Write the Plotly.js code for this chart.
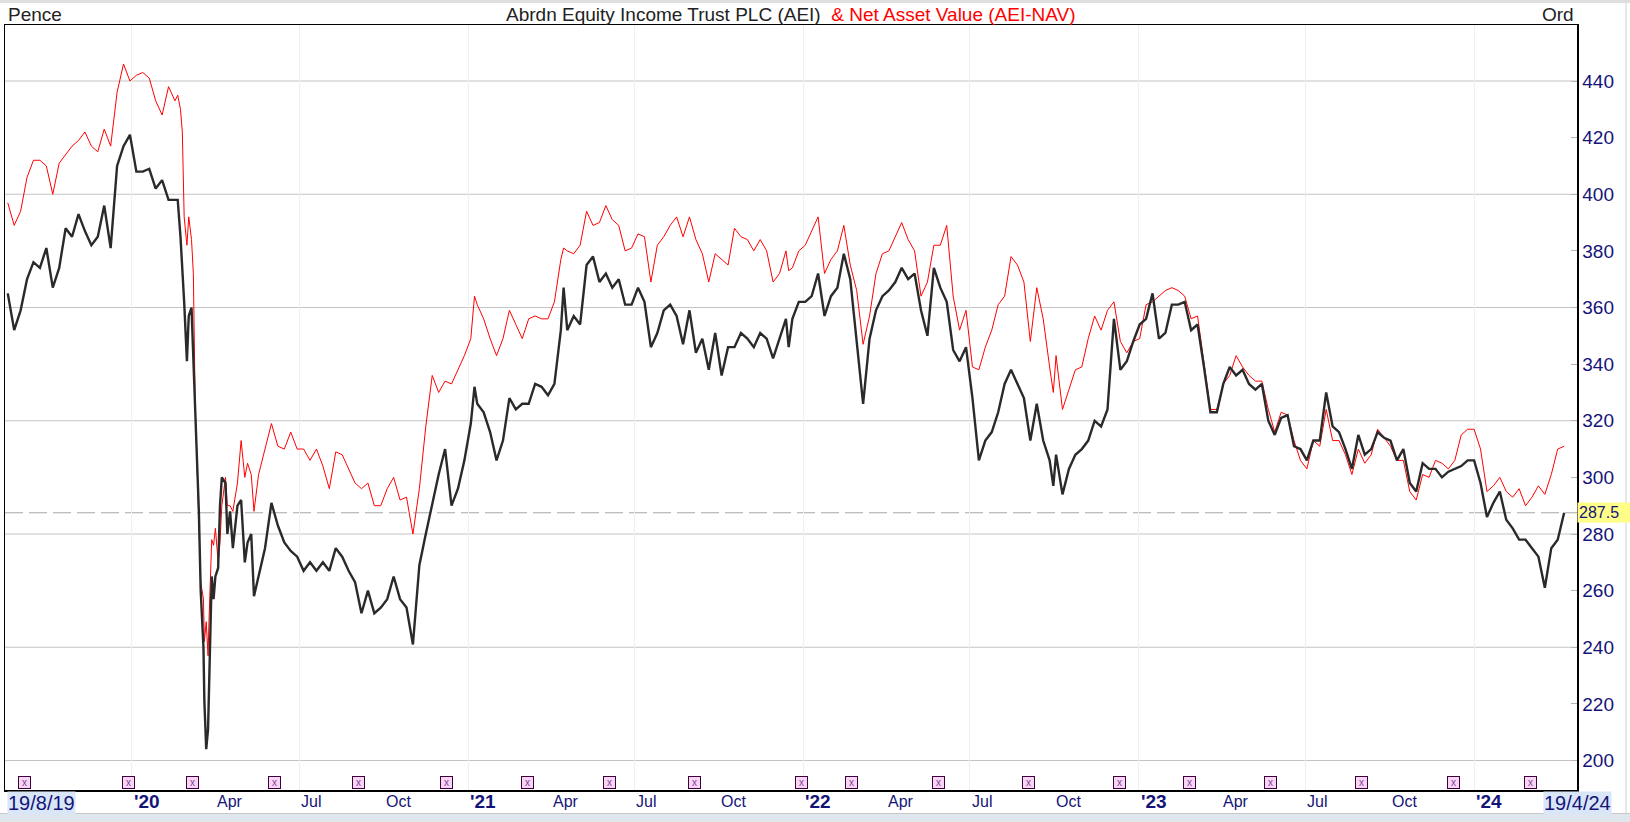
<!DOCTYPE html>
<html><head><meta charset="utf-8">
<script src="https://cdn.plot.ly/plotly-3.0.1.min.js"></script>
<style>html,body{margin:0;padding:0;background:#fff;overflow:hidden}#chart{width:1630px;height:822px}</style>
</head><body><div id="chart"></div>
<script>
// ---------------- DATA ----------------
const dates = [
"2019-08-19","2019-08-26","2019-09-02","2019-09-09","2019-09-16","2019-09-23","2019-09-30","2019-10-07","2019-10-14","2019-10-21",
"2019-10-28","2019-11-04","2019-11-11","2019-11-18","2019-11-25","2019-12-02","2019-12-09","2019-12-16","2019-12-23","2019-12-30",
"2020-01-06","2020-01-13","2020-01-20","2020-01-27","2020-02-03","2020-02-10",
"2020-02-17","2020-02-20","2020-02-23","2020-02-25","2020-02-27","2020-03-01","2020-03-03","2020-03-06","2020-03-08","2020-03-10",
"2020-03-12","2020-03-14","2020-03-16","2020-03-19","2020-03-20","2020-03-22","2020-03-24","2020-03-25","2020-03-27","2020-03-28",
"2020-03-30","2020-04-01","2020-04-04","2020-04-06","2020-04-08","2020-04-12","2020-04-14","2020-04-17","2020-04-20","2020-04-25",
"2020-04-29","2020-05-03","2020-05-06","2020-05-10","2020-05-13",
"2020-05-18","2020-05-25","2020-06-01","2020-06-08","2020-06-15","2020-06-22","2020-06-29","2020-07-06","2020-07-13","2020-07-20",
"2020-07-27","2020-08-03","2020-08-10","2020-08-17","2020-08-24","2020-08-31","2020-09-07","2020-09-14","2020-09-21","2020-09-28",
"2020-10-05","2020-10-12","2020-10-19","2020-10-26","2020-11-02","2020-11-09","2020-11-16","2020-11-23","2020-11-30","2020-12-07",
"2020-12-14","2020-12-21","2020-12-28","2021-01-04","2021-01-08","2021-01-11","2021-01-18","2021-01-25","2021-02-01","2021-02-08","2021-02-15",
"2021-02-22","2021-03-01","2021-03-08","2021-03-15","2021-03-22","2021-03-29","2021-04-05","2021-04-12","2021-04-15","2021-04-19","2021-04-26",
"2021-05-03","2021-05-10","2021-05-17","2021-05-24","2021-05-31","2021-06-07","2021-06-14","2021-06-21","2021-06-28","2021-07-05",
"2021-07-12","2021-07-19","2021-07-26","2021-08-02","2021-08-09","2021-08-16","2021-08-23","2021-08-30","2021-09-06","2021-09-13",
"2021-09-20","2021-09-27","2021-10-04","2021-10-11","2021-10-18","2021-10-25","2021-11-01","2021-11-08","2021-11-15","2021-11-22",
"2021-11-29","2021-12-06","2021-12-13","2021-12-16","2021-12-20","2021-12-27","2022-01-03","2022-01-10","2022-01-17","2022-01-24","2022-01-31",
"2022-02-07","2022-02-14","2022-02-21","2022-02-28","2022-03-07","2022-03-14","2022-03-21","2022-03-28","2022-04-04","2022-04-11",
"2022-04-18","2022-04-25","2022-05-02","2022-05-09","2022-05-16","2022-05-23","2022-05-30","2022-06-06","2022-06-13","2022-06-20",
"2022-06-27","2022-07-04","2022-07-11","2022-07-18","2022-07-25","2022-08-01","2022-08-08","2022-08-15","2022-08-22","2022-08-29",
"2022-09-05","2022-09-12","2022-09-19","2022-09-26","2022-09-30","2022-10-03","2022-10-10","2022-10-17","2022-10-24","2022-10-31","2022-11-07",
"2022-11-14","2022-11-21","2022-11-28","2022-12-05","2022-12-12","2022-12-19","2022-12-26","2023-01-02","2023-01-09","2023-01-16",
"2023-01-23","2023-01-30","2023-02-06","2023-02-13","2023-02-20","2023-02-27","2023-03-06","2023-03-13","2023-03-20","2023-03-27",
"2023-04-03","2023-04-10","2023-04-17","2023-04-24","2023-05-01","2023-05-08","2023-05-15","2023-05-22","2023-05-29","2023-06-05",
"2023-06-12","2023-06-19","2023-06-26","2023-07-03","2023-07-10","2023-07-17","2023-07-24","2023-07-31","2023-08-07","2023-08-14",
"2023-08-21","2023-08-28","2023-09-04","2023-09-11","2023-09-18","2023-09-25","2023-10-02","2023-10-09","2023-10-16","2023-10-23",
"2023-10-30","2023-11-06","2023-11-13","2023-11-20","2023-11-27","2023-12-04","2023-12-11","2023-12-18","2023-12-25","2024-01-01",
"2024-01-08","2024-01-15","2024-01-22","2024-01-29","2024-02-05","2024-02-12","2024-02-19","2024-02-26","2024-03-04","2024-03-11",
"2024-03-18","2024-03-25","2024-04-01","2024-04-08"
];

const price = [
365,352,359,370,376,374,381,367,374,388,
385,393,387,382,385,396,381,410,417,421,
408,408,409,402,405,398,
398,398,385,375,362,341,357,360,341,323,
306,288,260,240,221,204,211,224,257,265,
257,265,268,290,300,298,280,288,275,290,
292,270,277,280,258,
265,275,291,283,277,274,272,267,270,267,
270,267,275,272,267,263,252,260,252,254,
257,265,257,254,241,269,280,291,301,310,
290,296,306,319,332,326,323,316,306,313,328,
324,326,326,333,332,329,333,352,367,352,357,
354,375,378,369,372,367,370,361,361,367,
362,346,351,359,361,357,347,359,344,349,
338,351,336,346,346,351,349,346,351,349,
342,349,356,346,356,362,362,364,372,357,364,
367,379,370,349,326,349,359,364,366,369,
374,370,372,359,350,374,367,362,345,341,
346,328,306,313,316,323,333,338,333,328,
313,326,313,306,297,308,294,303,308,310,313,
320,318,324,356,338,341,348,354,356,365,
349,351,361,361,362,352,354,339,323,323,
333,339,336,338,333,331,333,320,315,321,
322,311,310,306,313,313,330,318,316,310,
303,315,308,310,316,314,313,306,310,298,
295,305,303,303,300,302,303,304,306,306,
298,286,291,295,285,282,278,278,275,272,
261,275,278,287.5
];

const nav = [
397,389,394,406,412,412,410,400,411,414,
417,419,422,417,415,423,417,436,446,440,
442,443,441,433,428,438,
433,435,430,422,392,382,392,384,372,326,
306,290,263,257,242,249,237,249,265,278,
276,282,270,277,290,300,290,290,288,298,
313,300,305,301,288,
301,310,319,311,310,316,310,310,306,310,
304,296,309,308,303,298,296,298,290,290,
296,300,292,293,280,296,318,336,330,334,
333,338,343,349,364,361,356,349,343,349,359,
354,349,356,357,356,356,362,377,381,380,379,
382,394,389,390,396,391,389,380,381,386,
385,369,382,385,389,392,385,392,384,379,
369,379,377,375,388,385,384,380,384,380,
369,372,380,373,374,380,382,387,392,372,377,
380,389,375,366,347,357,372,379,380,385,
390,384,380,364,369,382,382,389,364,352,
359,339,338,346,352,361,364,378,375,369,
348,367,356,339,330,343,324,331,338,339,349,
357,352,359,362,348,344,348,349,361,362,
364,366,367,366,364,356,357,341,324,324,
333,336,343,339,336,334,334,324,316,323,
322,313,306,303,313,311,324,313,313,308,
301,310,305,308,317,314,311,306,306,295,
292,301,300,306,305,303,306,315,317,317,
310,295,297,300,295,293,296,290,293,297,
294,301,310,311
];

const yTickVals = [200,220,240,260,280,300,320,340,360,380,400,420,440];
const yGridVals = [200,240,280,320,360,400,440];
const xTickDates = ["2020-01-01","2020-04-01","2020-07-01","2020-10-01","2021-01-01","2021-04-01","2021-07-01","2021-10-01",
                    "2022-01-01","2022-04-01","2022-07-01","2022-10-01","2023-01-01","2023-04-01","2023-07-01","2023-10-01","2024-01-01"];
const xTickText  = ["'20","Apr","Jul","Oct","'21","Apr","Jul","Oct","'22","Apr","Jul","Oct","'23","Apr","Jul","Oct","'24"];
const xGridDates = ["2020-01-01","2020-07-01","2021-01-01","2021-07-01","2022-01-01","2022-07-01","2023-01-01","2023-07-01","2024-01-01"];
const divDates = ["2019-09-06","2019-12-28","2020-03-07","2020-06-04","2020-09-04","2020-12-09","2021-03-07","2021-06-04","2021-09-04",
                  "2021-12-30","2022-02-22","2022-05-28","2022-09-03","2022-12-11","2023-02-25","2023-05-24","2023-08-31","2023-12-10","2024-03-02"];
const startLabel = "19/8/19";
const endLabel = "19/4/24";
const lastValue = 287.5;

// ---------------- LAYOUT ----------------
const W = 1630, H = 822, ML = 5, MR = 53, MT = 25, MB = 32;
const PW = W - ML - MR, PH = H - MT - MB;
const pxX = p => (p - ML) / PW;
const pxY = p => (H - MB - p) / PH;
const FONT = "Liberation Sans, Arial, sans-serif";
const NAVY = "#141478";

const traces = [
  {x: dates, y: nav, type: "scatter", mode: "lines", name: "NAV",
   line: {color: "#ff0000", width: 1}, hoverinfo: "skip"},
  {x: dates, y: price, type: "scatter", mode: "lines", name: "AEI",
   line: {color: "#2a2a2a", width: 2.4}, hoverinfo: "skip"}
];

const shapes = [];
yGridVals.forEach(v => shapes.push({type: "line", xref: "paper", yref: "y", x0: 0, x1: 1, y0: v, y1: v,
  line: {color: "#c4c4c4", width: 1}, layer: "below"}));
shapes.push({type: "line", xref: "paper", yref: "y", x0: 0, x1: 1, y0: lastValue, y1: lastValue,
  line: {color: "#a8a8a8", width: 1, dash: "18px,6px"}, layer: "below"});
// window frame decorations
shapes.push({type: "rect", xref: "paper", yref: "paper", x0: pxX(0), x1: pxX(W), y0: pxY(0), y1: pxY(3),
  fillcolor: "#dedede", line: {width: 0}});
shapes.push({type: "rect", xref: "paper", yref: "paper", x0: pxX(0), x1: pxX(W), y0: pxY(814), y1: pxY(822),
  fillcolor: "#dfe6ee", line: {width: 0}});
shapes.push({type: "line", xref: "paper", yref: "paper", x0: pxX(0), x1: pxX(W), y0: pxY(813.5), y1: pxY(813.5),
  line: {color: "#c8c8c8", width: 1}});
shapes.push({type: "line", xref: "paper", yref: "paper", x0: pxX(1626), x1: pxX(1626), y0: pxY(3), y1: pxY(813.5),
  line: {color: "#d0d0d0", width: 1}});

const annotations = [];
annotations.push({xref: "paper", yref: "paper", x: pxX(6), y: pxY(14), xanchor: "left", yanchor: "middle",
  text: "Pence", showarrow: false, font: {family: FONT, size: 19, color: "#222"}});
annotations.push({xref: "paper", yref: "paper", x: 0.5, y: pxY(14), xanchor: "center", yanchor: "middle",
  text: 'Abrdn Equity Income Trust PLC (AEI) &nbsp;<span style="color:#ff0000">&amp; Net Asset Value (AEI-NAV)</span>',
  showarrow: false, font: {family: FONT, size: 19, color: "#222"}});
annotations.push({xref: "paper", yref: "paper", x: pxX(1576), y: pxY(14), xanchor: "right", yanchor: "middle",
  text: "Ord", showarrow: false, font: {family: FONT, size: 19, color: "#222"}});

xTickDates.forEach((d, i) => {
  const isYear = xTickText[i].charAt(0) === "'";
  annotations.push({xref: "x", yref: "paper", x: d, y: pxY(801), xanchor: "left", yanchor: "middle",
    text: isYear ? "<b>" + xTickText[i] + "</b>" : xTickText[i], showarrow: false,
    font: {family: FONT, size: isYear ? 19 : 16, color: NAVY}});
});
annotations.push({xref: "paper", yref: "paper", x: pxX(7), y: pxY(802.5), xanchor: "left", yanchor: "middle",
  text: startLabel, showarrow: false, bgcolor: "#d9e6f7", borderpad: 0,
  font: {family: FONT, size: 20, color: NAVY}});
annotations.push({xref: "paper", yref: "paper", x: 1, y: pxY(802.5), xanchor: "center", yanchor: "middle",
  text: endLabel, showarrow: false, bgcolor: "#d9e6f7", borderpad: 0,
  font: {family: FONT, size: 20, color: NAVY}});
annotations.push({xref: "paper", yref: "y", x: 1, y: lastValue, xanchor: "left", yanchor: "middle",
  text: String(lastValue), showarrow: false, bgcolor: "#ffff88", borderpad: 1, width: 50, align: "left",
  font: {family: FONT, size: 16, color: NAVY}});
divDates.forEach(d => annotations.push({xref: "x", yref: "paper", x: d, y: pxY(782.5), xanchor: "center", yanchor: "middle",
  text: "x", showarrow: false, bgcolor: "#f7d6f3", bordercolor: "#400040", borderwidth: 1, borderpad: 0,
  width: 11, height: 11, font: {family: FONT, size: 10, color: "#8a3aa0"}}));

const layout = {
  width: W, height: H,
  margin: {l: ML, r: MR, t: MT, b: MB, pad: 0},
  paper_bgcolor: "#ffffff", plot_bgcolor: "#ffffff",
  showlegend: false,
  xaxis: {type: "date", range: ["2019-08-16", "2024-04-22"], showticklabels: false,
    tickmode: "array", tickvals: xGridDates, ticks: "", showgrid: true, gridcolor: "#efefef", gridwidth: 1,
    showline: true, mirror: true, linecolor: "#000", linewidth: 1.5, zeroline: false, fixedrange: true},
  yaxis: {range: [189.58, 459.78], side: "right", tickmode: "array", tickvals: yTickVals,
    ticks: "inside", ticklen: 6, tickcolor: "#b4b4b4", tickwidth: 1, showgrid: false, zeroline: false,
    showline: true, mirror: true, linecolor: "#000", linewidth: 1.5,
    tickfont: {family: FONT, size: 19, color: NAVY}, fixedrange: true},
  shapes: shapes,
  annotations: annotations
};

Plotly.newPlot("chart", traces, layout, {displayModeBar: false, staticPlot: true});
</script>
</body></html>
